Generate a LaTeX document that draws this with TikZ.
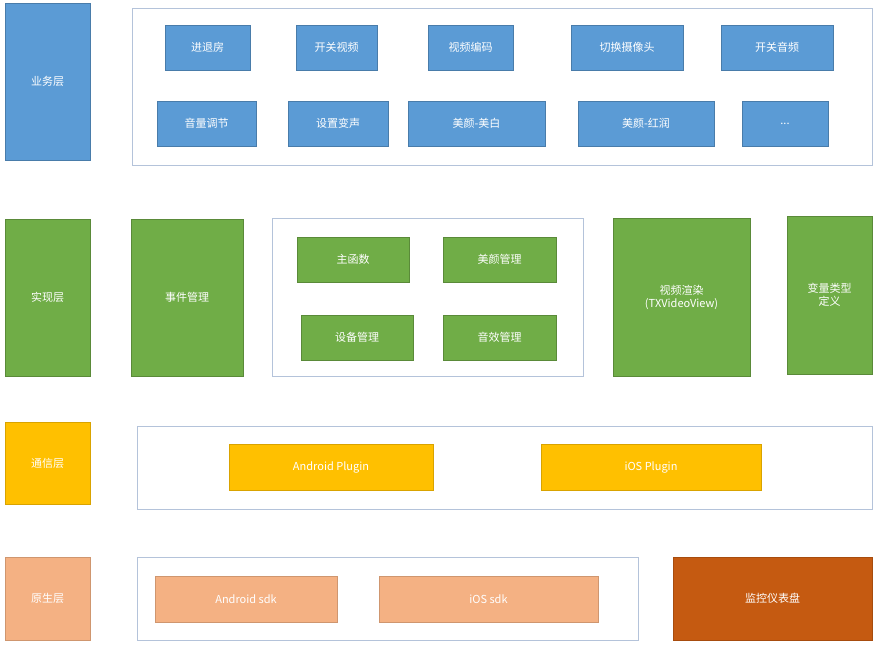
\documentclass[tikz,border=0pt]{standalone}
\usepackage{fontspec}
\setmainfont{Noto Sans CJK SC}
\begin{document}
\begin{tikzpicture}[x=1pt,y=-1pt,
 base/.style={font=\fontsize{11}{13}\selectfont,text=white,align=center,inner sep=0pt,line width=0.8pt},
 bl/.style={base,fill=blue5,draw=blue5!80!black},
 gr/.style={base,fill=green5,draw=green5!80!black},
 ye/.style={base,fill=yel5,draw=yel5!85!black},
 pe/.style={base,fill=peach5,draw=peach5!85!black},
 dk/.style={base,fill=dark5,draw=dark5!85!black},
 cont/.style={draw=frame5,fill=white,line width=0.8pt}]
\definecolor{blue5}{HTML}{5B9BD5}
\definecolor{green5}{HTML}{70AD47}
\definecolor{yel5}{HTML}{FFC000}
\definecolor{peach5}{HTML}{F4B183}
\definecolor{dark5}{HTML}{C55A11}
\definecolor{frame5}{HTML}{B4C3DA}
\useasboundingbox[fill=white] (0,0) rectangle (878,649);
\newcommand\bx[4]{\path[#1] (#2) rectangle (#3) node[midway,base] {#4};}
% left column
\bx{bl}{5,3}{90,160}{业务层}
\bx{gr}{5,219}{90,376}{实现层}
\bx{ye}{5,422}{90,504}{通信层}
\bx{pe}{5,557}{90,640}{原生层}
% containers
\draw[cont] (132,8) rectangle (872,165);
\draw[cont] (272,218) rectangle (583,376);
\draw[cont] (137,426) rectangle (872,509);
\draw[cont] (137,557) rectangle (638,640);
% business
\bx{bl}{165,25}{250,70}{进退房}
\bx{bl}{296,25}{377,70}{开关视频}
\bx{bl}{428,25}{513,70}{视频编码}
\bx{bl}{571,25}{683,70}{切换摄像头}
\bx{bl}{721,25}{833,70}{开关音频}
\bx{bl}{157,101}{256,146}{音量调节}
\bx{bl}{288,101}{388,146}{设置变声}
\bx{bl}{408,101}{545,146}{美颜-美白}
\bx{bl}{578,101}{714,146}{美颜-红润}
\bx{bl}{742,101}{828,146}{...}
% implementation
\bx{gr}{131,219}{243,376}{事件管理}
\bx{gr}{297,237}{409,282}{主函数}
\bx{gr}{443,237}{556,282}{美颜管理}
\bx{gr}{301,315}{413,360}{设备管理}
\bx{gr}{443,315}{556,360}{音效管理}
\bx{gr}{613,218}{750,376}{视频渲染\\(TXVideoView)}
\bx{gr}{787,216}{872,374}{变量类型\\定义}
% comm
\bx{ye}{229,444}{433,490}{Android Plugin}
\bx{ye}{541,444}{761,490}{iOS Plugin}
% native
\bx{pe}{155,576}{337,622}{Android sdk}
\bx{pe}{379,576}{598,622}{iOS sdk}
\bx{dk}{673,557}{872,640}{监控仪表盘}
\end{tikzpicture}
\end{document}
